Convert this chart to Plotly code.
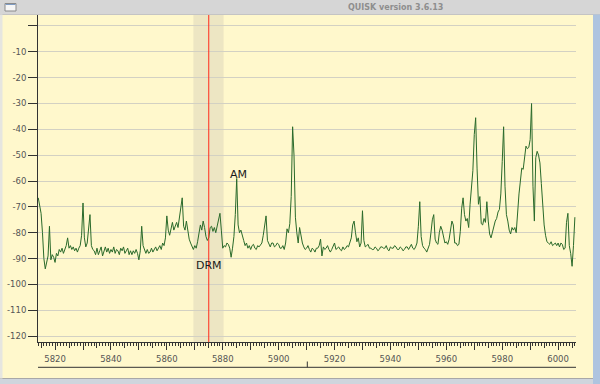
import numpy as np
import plotly.graph_objects as go

# ---- data ----
START_KHZ = 5814.0
STEP_KHZ = 0.5
DB = [
    -66.5, -69, -72.5, -80, -90, -94, -92, -89, -77.5, -90.5, -88.5, -89.5, -91.5, -88, -89, -86.5, -87.5, -86, -88, -86.5,
    -85, -82, -86, -85, -86.5, -85.5, -87, -86, -87.5, -86, -85, -81, -68.5, -82, -85.5, -84, -79, -73, -85, -86.5,
    -87, -88.5, -86, -88.5, -87, -85.5, -89, -87, -85.5, -87.5, -86, -88, -86.5, -87.5, -85.5, -88, -86.5, -87, -88.5, -86,
    -87, -85.5, -88, -87, -86, -88.5, -87, -88.5, -87, -88, -86.5, -88, -90.5, -87, -77.5, -85, -86.5, -88, -86.5, -88,
    -87.5, -86, -87.5, -86.5, -85.5, -87, -86, -85, -86.5, -84, -85, -82, -73.5, -79, -81, -78, -76, -79, -77.5, -76,
    -78, -74, -70, -66.5, -77.5, -79, -75.5, -80, -82.5, -84, -85.5, -86.5, -85, -86, -83.5, -80, -77, -79, -75.5, -78,
    -81.5, -83, -82, -78, -77.5, -79.5, -78, -80, -77.5, -75, -72.5, -79, -86, -85, -85.5, -84, -84.5, -86, -89.5, -86,
    -81.5, -73, -59, -77, -80, -79, -81.5, -83, -85, -84, -86, -85, -86.5, -85, -84.5, -86, -86.5, -85, -85.5, -84.5,
    -84, -81, -77.5, -73.5, -83, -84.5, -85.5, -84, -84, -85.5, -85, -84, -84.5, -86, -86, -85, -86.5, -84, -78.5, -80,
    -76.5, -66, -39, -50, -74, -80, -84, -78, -81.5, -84, -85.5, -86.5, -86, -85, -86.5, -87.5, -86, -86.5, -87.5, -86,
    -86, -85, -82.5, -89, -85.5, -86.5, -86, -85, -86.5, -87.5, -86.5, -85, -84, -86.5, -86, -85.5, -86.5, -87, -85.5, -86.5,
    -86, -85, -85.5, -84, -82, -77, -75.5, -80, -83.5, -82, -85.5, -84, -71.5, -83, -85.5, -85, -84.5, -86, -86, -86.5,
    -86.5, -85.5, -86, -87, -86.5, -85.5, -85.5, -86, -86, -85, -86.5, -87, -85.5, -86, -86, -85, -85.5, -86.5, -86.5, -85.5,
    -86, -87, -86.5, -85.5, -85.5, -86.5, -85.5, -84.5, -86, -86.5, -85.5, -84, -77.5, -68, -81.5, -85, -86, -86.5, -87.5, -86,
    -84.5, -80, -75, -73, -82.5, -84, -84.5, -80, -77.5, -79, -82, -84, -83.5, -84.5, -82.5, -78, -75.5, -77, -84, -84,
    -85, -84.5, -79.5, -70.5, -66.5, -73, -75.5, -74.5, -78, -69, -62.5, -56, -42, -35.5, -55, -69, -66, -76.5, -77, -74.5,
    -76, -68, -75.5, -80.5, -82, -79.5, -77.5, -75.5, -74.5, -72, -71, -65, -52.5, -39, -62, -73, -75.5, -79, -80.5, -78,
    -79, -78, -80, -70, -65, -60, -55, -55.5, -51, -46.5, -47.5, -47, -44, -30, -62, -75.5, -51, -48.5, -50, -53,
    -61, -70, -77, -81, -83.5, -84, -84.5, -83.5, -85, -84.5, -84, -85, -84, -85.5, -84, -84.5, -86.5, -86, -76, -72.5,
    -85, -88, -93, -85, -74,
]
FREQ = START_KHZ + STEP_KHZ * np.arange(len(DB))

X_RANGE = [5813.9, 6006.4]
Y_RANGE = [-122.3, 4.25]
X_MAJOR = list(range(5820, 6001, 10))
X_LABELS = [str(v) if v % 20 == 0 else "" for v in X_MAJOR]
X_MID = list(range(5815, 6006, 5))
Y_TICKS = list(range(0, -121, -10))
Y_LABELS = ["" if v == 0 else str(v) for v in Y_TICKS]

BAND = [5869.5, 5880.3]
TUNED = 5875.0
LABELS = [("AM", 5885.8, -57.6), ("DRM", 5875.2, -92.5)]
TITLE = "QUISK version 3.6.13"

# ---- layout helpers (window decoration in pixel space) ----
W, H = 600, 384
PL, PR, PT, PB = 38, 576, 15, 342
def px(x):
    return (x - PL) / (PR - PL)
def py(y):
    return (PB - y) / (PB - PT)

BG = "#fff8cc"
FONT = "DejaVu Sans"

fig = go.Figure()
fig.add_trace(go.Scatter(x=FREQ, y=DB, mode="lines",
                         line=dict(color="#2a6a2a", width=1), hoverinfo="skip"))
fig.add_trace(go.Scatter(x=[FREQ[0]], y=[DB[0]], xaxis="x2", mode="markers",
                         marker=dict(opacity=0), hoverinfo="skip"))

shapes = []
# tuned band and line
shapes.append(dict(type="rect", xref="x", yref="paper", x0=BAND[0], x1=BAND[1], y0=0, y1=1,
                   fillcolor="#ede6c3", line=dict(width=0), layer="below"))
shapes.append(dict(type="line", xref="x", yref="paper", x0=TUNED, x1=TUNED, y0=0, y1=1,
                   line=dict(color="#ff2a1a", width=1), layer="above"))
# title bar
shapes.append(dict(type="rect", xref="paper", yref="paper", x0=px(-5), x1=px(605), y0=py(14), y1=py(-5),
                   fillcolor="#d6d6d6", line=dict(width=0)))
shapes.append(dict(type="line", xref="paper", yref="paper", x0=px(0), x1=px(600), y0=py(14.5), y1=py(14.5),
                   line=dict(color="#c4c4c4", width=1)))
# window icon
shapes.append(dict(type="rect", xref="paper", yref="paper", x0=px(5), x1=px(16), y0=py(11), y1=py(3.5),
                   fillcolor="#f6f6f6", line=dict(color="#8a8a8a", width=1)))
shapes.append(dict(type="line", xref="paper", yref="paper", x0=px(5.5), x1=px(15.5), y0=py(4.5), y1=py(4.5),
                   line=dict(color="#7f9cc4", width=1)))
# right blue border
shapes.append(dict(type="rect", xref="paper", yref="paper", x0=px(593), x1=px(606), y0=py(390), y1=py(14.5),
                   fillcolor="#aec4df", line=dict(width=0)))
# bottom border
shapes.append(dict(type="rect", xref="paper", yref="paper", x0=px(-5), x1=px(593), y0=py(390), y1=py(378.5),
                   fillcolor="#cfd5dd", line=dict(width=0)))
shapes.append(dict(type="line", xref="paper", yref="paper", x0=px(0), x1=px(593), y0=py(378.5), y1=py(378.5),
                   line=dict(color="#a8a8a8", width=1)))
# left border
shapes.append(dict(type="rect", xref="paper", yref="paper", x0=px(-5), x1=px(2.5), y0=py(378.5), y1=py(14.5),
                   fillcolor="#e6e6e0", line=dict(width=0)))
# lower scroll ruler
shapes.append(dict(type="line", xref="paper", yref="paper", x0=px(38), x1=px(576), y0=py(367.3), y1=py(367.3),
                   line=dict(color="#333333", width=1)))
shapes.append(dict(type="line", xref="paper", yref="paper", x0=px(307.3), x1=px(307.3), y0=py(367.3), y1=py(361.5),
                   line=dict(color="#333333", width=1)))

annotations = []
for txt, fx, fy in LABELS:
    annotations.append(dict(x=fx, y=fy, xref="x", yref="y", text=txt, showarrow=False,
                            xanchor="center", yanchor="middle",
                            font=dict(family=FONT, size=11, color="#1a1a1a")))
annotations.append(dict(x=px(395), y=py(7.5), xref="paper", yref="paper", text="<b>" + TITLE + "</b>",
                        showarrow=False, xanchor="center", yanchor="middle",
                        font=dict(family=FONT, size=8, color="#8e8e8e")))

tickfont = dict(family=FONT, size=8.5, color="#555555")
fig.update_layout(
    width=W, height=H,
    margin=dict(l=PL, r=W - PR, t=PT, b=H - PB, pad=0, autoexpand=False),
    paper_bgcolor=BG, plot_bgcolor=BG,
    showlegend=False,
    shapes=shapes,
    annotations=annotations,
    xaxis=dict(range=X_RANGE, tickmode="array", tickvals=X_MAJOR, ticktext=X_LABELS,
               ticks="outside", ticklen=7, tickwidth=1, tickcolor="#333333",
               showline=True, linecolor="#333333", linewidth=1, automargin=False,
               showgrid=False, zeroline=False, tickfont=tickfont, ticklabelstandoff=2,
               minor=dict(tickmode="linear", tick0=5814, dtick=1, ticks="outside", ticklen=2.5,
                          tickwidth=1, tickcolor="#333333", showgrid=False)),
    xaxis2=dict(range=X_RANGE, overlaying="x", anchor="y", side="bottom", automargin=False,
                tickmode="array", tickvals=X_MID, ticks="outside", ticklen=4.5, tickwidth=1,
                tickcolor="#333333", showticklabels=False, showline=False,
                showgrid=False, zeroline=False),
    yaxis=dict(range=Y_RANGE, tickmode="array", tickvals=Y_TICKS, ticktext=Y_LABELS,
               ticks="outside", ticklen=9, tickwidth=1, tickcolor="#333333",
               showline=True, linecolor="#333333", linewidth=1, automargin=False,
               showgrid=True, gridcolor="#d3d1c3", gridwidth=1, zeroline=False,
               tickfont=tickfont, ticklabelstandoff=0),
)

fig.write_html("out.html")
